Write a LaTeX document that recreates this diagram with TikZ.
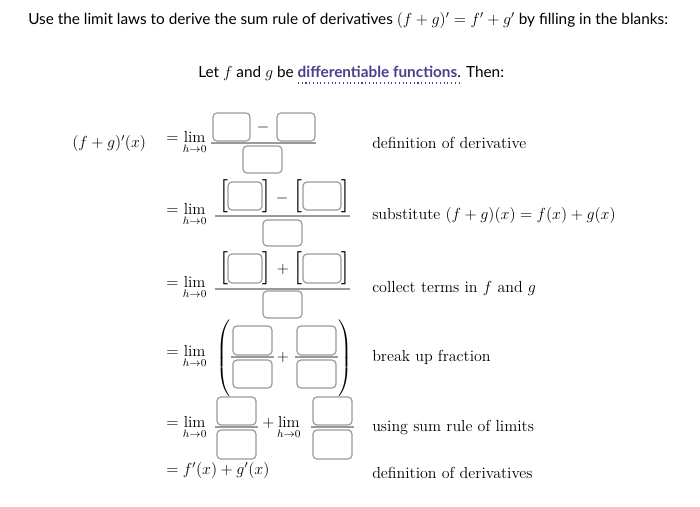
\documentclass[tikz,border=0pt]{standalone}
\usepackage{fontspec}
\usepackage{amsmath}
\newfontfamily\ui{Lato}
\definecolor{bx}{HTML}{9A9A9A}
\definecolor{pur}{HTML}{4B3F8C}
\begin{document}
\begin{tikzpicture}[x=0.75pt,y=-0.75pt,
  blank/.style={draw=bx,line width=0.9pt,rounded corners=3pt},
  fl/.style={draw=bx,line width=1.1pt},
  mt/.style={inner sep=0pt,font=\large},
  tx/.style={inner sep=0pt,anchor=west,font=\large}]
\useasboundingbox (0,0) rectangle (700,507);
\newcommand\bxx[4]{\draw[blank] (#1,#2) rectangle (#3,#4);}
\node[tx,font=\ui\fontsize{11.5}{13}\selectfont] (hd) at (28,20) {Use the limit laws to derive the sum rule of derivatives $(f+g)'=f'+g'$ by filling in the blanks:};
\node[tx,font=\ui\fontsize{11.5}{13}\selectfont] (let) at (198,73) {Let $f$ and $g$ be \textbf{\color{pur}differentiable functions}. Then:};
\draw[pur,dotted,line width=0.8pt] (298,83) -- (460,83);
\node[tx] (lhs) at (72,143) {$(f+g)'(x)$};
\foreach \y/\n in {143/1,215/2,288/3,357/4,428/5}{
  \node[tx] (eq\n) at (166,\y) {$=\lim\limits_{h\to 0}$};
}
\node[tx] at (166,470) {$=f'(x)+g'(x)$};
% row1
\draw[fl] (211,143) -- (316,143);
\bxx{213}{113}{250}{141}\bxx{277}{113}{315}{141}
\node[mt] at (263,127) {$-$};
\bxx{243}{146}{282}{173}
% row2
\draw[fl] (215,216) -- (350,216);
\node[mt,font=\Huge] at (224,196) {[};\node[mt,font=\Huge] at (266,196) {]};
\node[mt,font=\Huge] at (298,196) {[};\node[mt,font=\Huge] at (345,196) {]};
\bxx{228}{182}{262}{210}\bxx{303}{182}{341}{210}
\node[mt] at (282,198) {$-$};
\bxx{263}{220}{302}{246}
% row3
\draw[fl] (215,289) -- (350,289);
\node[mt,font=\Huge] at (224,268) {[};\node[mt,font=\Huge] at (266,268) {]};
\node[mt,font=\Huge] at (298,268) {[};\node[mt,font=\Huge] at (345,268) {]};
\bxx{228}{254}{262}{283}\bxx{303}{254}{341}{283}
\node[mt] at (283,269) {$+$};
\bxx{263}{291}{302}{318}
% row4
\node[mt] at (224,358) {$\left(\rule[-26pt]{0pt}{52pt}\right.$};
\node[mt] at (345,358) {$\left.\rule[-26pt]{0pt}{52pt}\right)$};
\bxx{233}{326}{272}{355}\draw[fl] (231,357) -- (274,357);\bxx{233}{360}{272}{388}
\node[mt] at (283,357) {$+$};
\bxx{297}{326}{336}{355}\draw[fl] (295,357) -- (338,357);\bxx{297}{360}{336}{388}
% row5
\bxx{217}{397}{256}{425}\draw[fl] (215,427) -- (258,427);\bxx{217}{430}{256}{459}
\node[tx] at (262,428) {$+\lim\limits_{h\to 0}$};
\bxx{313}{397}{352}{425}\draw[fl] (311,427) -- (354,427);\bxx{313}{430}{352}{459}
% right column
\node[tx] (c1) at (372,143) {definition of derivative};
\node[tx] (c2) at (372,215) {substitute $(f+g)(x)=f(x)+g(x)$};
\node[tx] (c3) at (372,288) {collect terms in $f$ and $g$};
\node[tx] (c4) at (372,357) {break up fraction};
\node[tx] (c5) at (372,428) {using sum rule of limits};
\node[tx] (c6) at (372,473) {definition of derivatives};
\end{tikzpicture}
\end{document}
